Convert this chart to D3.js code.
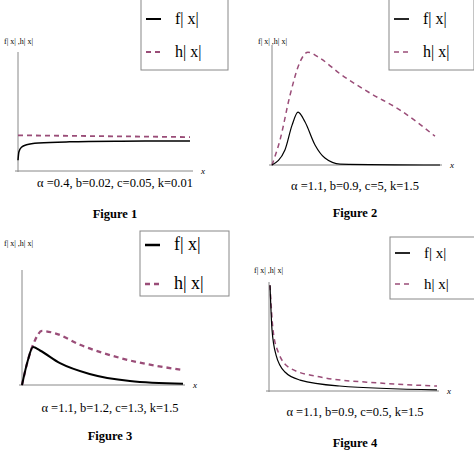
<!DOCTYPE html><html><head><meta charset="utf-8"><script src="https://cdn.jsdelivr.net/npm/d3@7"></script>
<style>body{margin:0;background:#fff}svg{font-family:"Liberation Serif",serif}</style></head><body>
<svg id="c" width="474" height="450"></svg>
<script>
const captions=["\u03b1 =0.4, b=0.02, c=0.05, k=0.01","\u03b1 =1.1, b=0.9, c=5, k=1.5","\u03b1 =1.1, b=1.2, c=1.3, k=1.5","\u03b1 =1.1, b=0.9, c=0.5, k=1.5"];
const titles=["Figure 1","Figure 2","Figure 3","Figure 4"];
const legendLabels=["f| x|","h| x|"];
const f1=[[0,0.9],[0.05,1.6],[0.2,2.0],[0.5,2.2],[1.2,2.35],[3,2.45],[6,2.5],[10,2.52]];
const h1=[[0,3.0],[10,2.85]];
const f2=[[0,0],[0.77,1.25],[1.19,3.3],[1.55,4.4],[1.96,3.6],[2.56,1.67],[3.15,0.58],[4.05,0.08],[10,0]];
const h2=[[0,0],[0.48,2.1],[1.07,5.8],[1.67,8.6],[2.14,9.4],[2.86,8.9],[4.05,7.6],[5.83,6.0],[7.6,4.6],[9.7,2.4]];
const f3=[[0,0],[0.37,2.17],[0.68,3.3],[1.12,3.0],[2.36,1.9],[4.2,0.96],[6.7,0.35],[10,0.1]];
const h3=[[0,0],[0.37,2.17],[0.81,3.9],[1.24,4.7],[2.05,4.5],[3.6,3.5],[6.1,2.35],[10,1.3]];
const f4=[[0.06,9.7],[0.18,5.6],[0.42,3.3],[0.95,1.74],[1.85,1.0],[4.2,0.46],[10,0.1]];
const h4=[[0.06,9.7],[0.24,5.6],[0.54,3.6],[1.25,2.1],[3.0,1.3],[6.6,0.73],[10,0.46]];
const panels=[
 {f:f1,h:h1,x0:18,x1:190,ax1:193,yb:171,yt:52,lg:[141,-2,228,70,19,52],cx:115,cy:187,ty:218,fs:16,lw:1.5,ylab:[4,44]},
 {f:f2,h:h2,x0:272,x1:440,ax1:442,yb:165,yt:45,lg:[389,-2,474,70,19,52],cx:355,cy:190,ty:217,fs:16,lw:1.2,ylab:[258,44]},
 {f:f3,h:h3,x0:22,x1:183,ax1:185,yb:385,yt:270,lg:[140,231,229,296,245,284],cx:110,cy:412,ty:440,fs:18,lw:2,ylab:[4,246]},
 {f:f4,h:h4,x0:269,x1:437,ax1:439,yb:391,yt:282,lg:[390,237,476,299,253,284],cx:355,cy:416,ty:447,fs:15,lw:1.2,ylab:[254,273]}
];
const svg=d3.select("#c");
panels.forEach((p,i)=>{
 const x=d3.scaleLinear().domain([0,10]).range([p.x0,p.x1]);
 const y=d3.scaleLinear().domain([0,10]).range([p.yb,p.yt]);
 const g=svg.append("g");
 g.append("line").attr("x1",p.x0).attr("x2",p.x0).attr("y1",p.yt).attr("y2",p.yb+1).attr("stroke","#888");
 g.append("line").attr("x1",p.x0-3).attr("x2",p.ax1).attr("y1",p.yb).attr("y2",p.yb).attr("stroke","#888");
 g.append("text").attr("x",p.ax1+8).attr("y",p.yb+3).attr("font-size",9).attr("font-style","italic").text("x");
 g.append("text").attr("x",p.ylab[0]).attr("y",p.ylab[1]).attr("font-size",8).text("f| x| ,h| x|");
 const line=d3.line().x(d=>x(d[0])).y(d=>y(d[1])).curve(d3.curveMonotoneX);
 g.append("path").attr("d",line(p.h)).attr("fill","none").attr("stroke","#9a4d78").attr("stroke-width",p.lw+0.3).attr("stroke-dasharray","5,4");
 g.append("path").attr("d",line(p.f)).attr("fill","none").attr("stroke","#000").attr("stroke-width",p.lw);
 const [lx0,ly0,lx1,ly1,fy,hy]=p.lg;
 g.append("rect").attr("x",lx0).attr("y",ly0).attr("width",lx1-lx0).attr("height",ly1-ly0).attr("fill","#fff").attr("stroke","#888");
 g.append("line").attr("x1",lx0+5).attr("x2",lx0+20).attr("y1",fy).attr("y2",fy).attr("stroke","#000").attr("stroke-width",p.lw+0.5);
 g.append("line").attr("x1",lx0+5).attr("x2",lx0+22).attr("y1",hy).attr("y2",hy).attr("stroke","#9a4d78").attr("stroke-width",p.lw+0.3).attr("stroke-dasharray","5,4");
 g.append("text").attr("x",lx0+34).attr("y",fy+5).attr("font-size",p.fs).text(legendLabels[0]);
 g.append("text").attr("x",lx0+34).attr("y",hy+5).attr("font-size",p.fs).text(legendLabels[1]);
 g.append("text").attr("x",p.cx).attr("y",p.cy).attr("text-anchor","middle").attr("font-size",12.5).text(captions[i]);
 g.append("text").attr("x",p.cx).attr("y",p.ty).attr("text-anchor","middle").attr("font-size",12.5).attr("font-weight","bold").text(titles[i]);
});
</script></body></html>
